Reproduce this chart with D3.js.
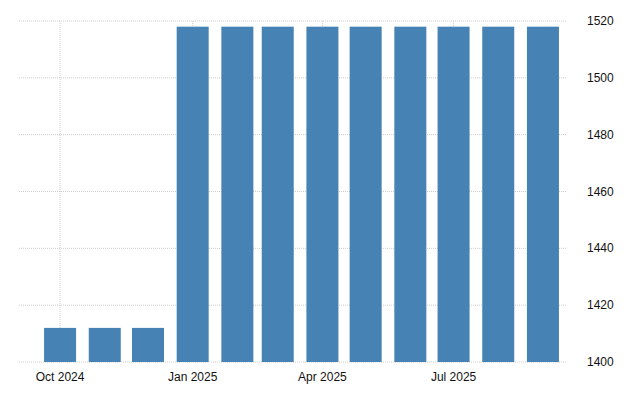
<!DOCTYPE html>
<html><head><meta charset="utf-8">
<script src="https://cdn.jsdelivr.net/npm/d3@7"></script>
<style>body{margin:0;background:#fff}text{font-family:"Liberation Sans",Arial,sans-serif;font-size:12px;fill:#111}</style>
</head><body><svg id="c" width="640" height="400"></svg>
<script>
const months = ["2024-09","2024-10","2024-11","2024-12","2025-01","2025-02","2025-03","2025-04","2025-05","2025-06","2025-07","2025-08","2025-09"].slice(1);
const values = [1412,1412,1412,1518,1518,1518,1518,1518,1518,1518,1518,1518];
const yTicks = [1400,1420,1440,1460,1480,1500,1520];
const xTicks = ["2024-10","2025-01","2025-04","2025-07"];
const xLabels = ["Oct 2024","Jan 2025","Apr 2025","Jul 2025"];
const p = d3.timeParse("%Y-%m");
const svg = d3.select("#c");
const x = d3.scaleTime().domain([new Date(2024,8,2,12), new Date(2025,8,17)]).range([19,566]);
const y = d3.scaleLinear().domain([1400,1520]).range([362,21]);
const g = svg.append("g");
g.selectAll("line.h").data(yTicks).join("line").attr("x1",19).attr("x2",566)
 .attr("y1",d=>y(d)).attr("y2",d=>y(d)).attr("stroke","#ccc").attr("stroke-dasharray","1,1");
g.selectAll("line.v").data(xTicks).join("line").attr("x1",d=>x(p(d))).attr("x2",d=>x(p(d)))
 .attr("y1",21).attr("y2",362).attr("stroke","#ccc").attr("stroke-dasharray","1,1");
const bw = 32;
svg.selectAll("rect").data(months).join("rect")
 .attr("x",d=>x(p(d))-bw/2).attr("width",bw)
 .attr("y",(d,i)=>y(values[i])).attr("height",(d,i)=>y(1400)-y(values[i]))
 .attr("fill","#4682b4");
svg.selectAll("text.y").data(yTicks).join("text").attr("x",587).attr("y",d=>y(d)+4).text(d=>d);
svg.selectAll("text.x").data(xTicks).join("text").attr("x",d=>x(p(d))).attr("y",381)
 .attr("text-anchor","middle").text((d,i)=>xLabels[i]);
</script></body></html>
